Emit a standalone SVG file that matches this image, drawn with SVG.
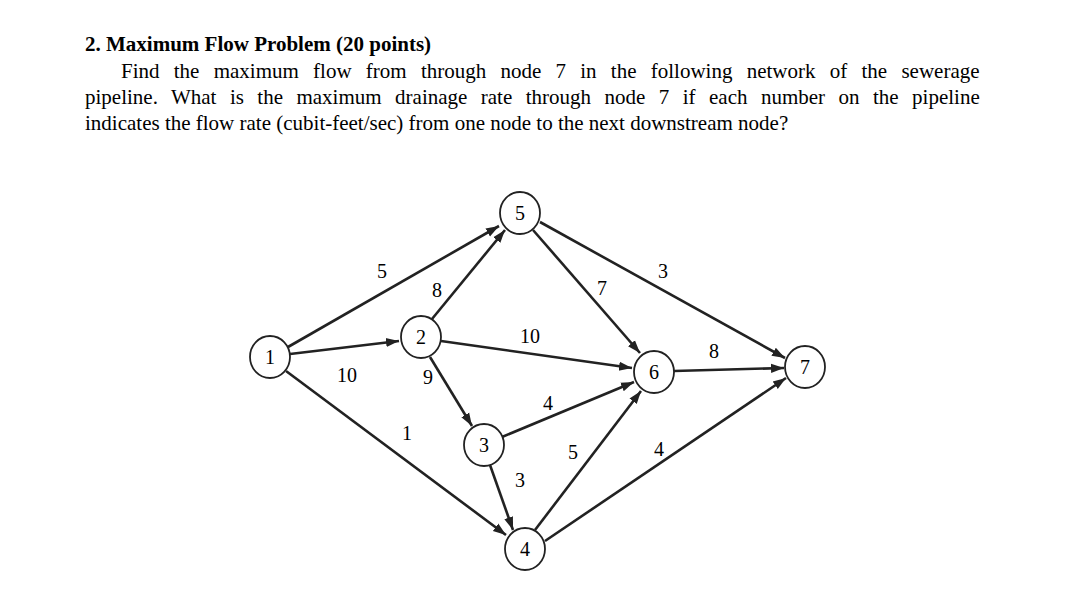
<svg xmlns="http://www.w3.org/2000/svg" width="1080" height="592" viewBox="0 0 1080 592">
<style>
.t{font-family:"Liberation Serif",serif;font-size:21px;fill:#000}
.b{font-weight:bold}
.n ellipse{fill:#fff;stroke:#222;stroke-width:1.8}
.n text{font-family:"Liberation Serif",serif;font-size:20px;text-anchor:middle}
.e line{stroke:#222;stroke-width:2.6}
.l{font-family:"Liberation Serif",serif;font-size:20px;text-anchor:middle}
</style>
<defs><marker id="a" viewBox="0 0 10 10" refX="10" refY="5" markerWidth="5" markerHeight="5" orient="auto" markerUnits="strokeWidth"><path d="M0,1.5L10,5L0,8.5z" fill="#222"/></marker></defs>
<rect width="1080" height="592" fill="#fff"/>
<text class="t b" x="85" y="51">2. Maximum Flow Problem (20 points)</text>
<text class="t" x="121" y="78" word-spacing="9">Find the maximum flow from through node 7 in the following network of the sewerage</text>
<text class="t" x="85" y="104" word-spacing="8.2">pipeline. What is the maximum drainage rate through node 7 if each number on the pipeline</text>
<text class="t" x="85" y="130">indicates the flow rate (cubit-feet/sec) from one node to the next downstream node?</text>
<g id="edges" class="e">
<line x1="288" y1="347" x2="499" y2="226" marker-end="url(#a)"/>
<line x1="290" y1="354" x2="399" y2="341" marker-end="url(#a)"/>
<line x1="286" y1="371" x2="506" y2="535" marker-end="url(#a)"/>
<line x1="432" y1="319" x2="505" y2="230" marker-end="url(#a)"/>
<line x1="441" y1="341" x2="632" y2="368" marker-end="url(#a)"/>
<line x1="430" y1="357" x2="472" y2="426" marker-end="url(#a)"/>
<line x1="533" y1="230" x2="640" y2="353" marker-end="url(#a)"/>
<line x1="540" y1="222" x2="785" y2="358" marker-end="url(#a)"/>
<line x1="502" y1="437" x2="634" y2="382" marker-end="url(#a)"/>
<line x1="490" y1="465" x2="513" y2="530" marker-end="url(#a)"/>
<line x1="535" y1="530" x2="641" y2="391" marker-end="url(#a)"/>
<line x1="545" y1="541" x2="786" y2="378" marker-end="url(#a)"/>
<line x1="674" y1="371" x2="784" y2="368" marker-end="url(#a)"/>
</g>
<g id="labels">
<text class="l" x="382" y="278">5</text>
<text class="l" x="347" y="382">10</text>
<text class="l" x="407" y="440">1</text>
<text class="l" x="437" y="297">8</text>
<text class="l" x="530" y="343">10</text>
<text class="l" x="428" y="384">9</text>
<text class="l" x="602" y="295">7</text>
<text class="l" x="663" y="278">3</text>
<text class="l" x="548" y="410">4</text>
<text class="l" x="520" y="487">3</text>
<text class="l" x="573" y="459">5</text>
<text class="l" x="659" y="456">4</text>
<text class="l" x="714" y="358">8</text>
</g>
<g id="n1" class="n"><ellipse cx="270" cy="357" rx="20" ry="21"/><text x="270" y="364">1</text></g>
<g id="n2" class="n"><ellipse cx="421" cy="337" rx="20" ry="21"/><text x="421" y="344">2</text></g>
<g id="n5" class="n"><ellipse cx="520" cy="213" rx="20" ry="21"/><text x="520" y="220">5</text></g>
<g id="n6" class="n"><ellipse cx="654" cy="372" rx="20" ry="21"/><text x="654" y="379">6</text></g>
<g id="n7" class="n"><ellipse cx="805" cy="367" rx="20" ry="21"/><text x="805" y="374">7</text></g>
<g id="n3" class="n"><ellipse cx="484" cy="445" rx="20" ry="21"/><text x="484" y="452">3</text></g>
<g id="n4" class="n"><ellipse cx="525" cy="549" rx="20" ry="21"/><text x="525" y="556">4</text></g>
</svg>
